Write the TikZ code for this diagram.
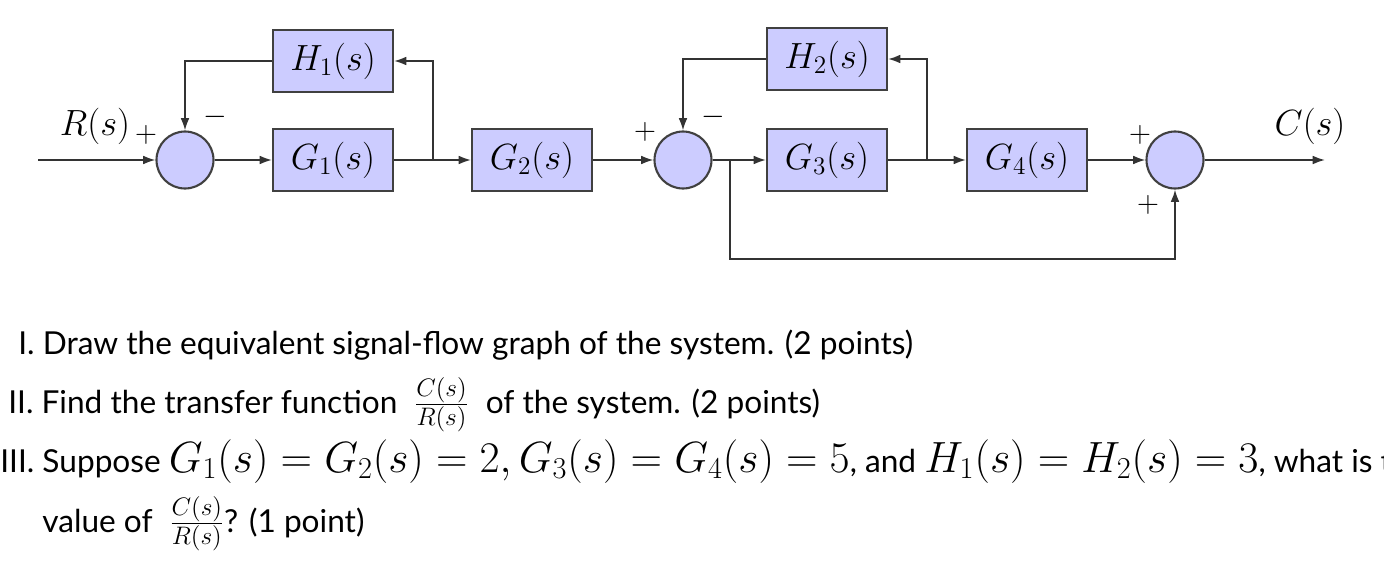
\documentclass[tikz,border=0pt]{standalone}
\usepackage{fontspec}
\setmainfont{Lato}
\usetikzlibrary{arrows.meta}
\newcommand{\bm}[1]{{\fontsize{24.5}{26}\selectfont$#1$}}
\begin{document}
\begin{tikzpicture}[x=0.02cm,y=-0.02cm,
  blk/.style={draw=black!75,line width=1.2pt,fill=blue!20,minimum width=120*0.02cm,minimum height=62*0.02cm,font=\fontsize{21}{24}\selectfont,inner sep=0pt},
  sum/.style={circle,draw=black!75,line width=1.2pt,fill=blue!20,minimum size=57*0.02cm,inner sep=0pt},
  ar/.style={draw=black!80,line width=1pt,-{Latex[length=7pt,width=5pt]}},
  ln/.style={draw=black!80,line width=1pt},
  sg/.style={font=\fontsize{18}{20}\selectfont,inner sep=0pt},
  txt/.style={anchor=base west,font=\fontsize{18}{20}\selectfont,inner sep=0pt}]
\useasboundingbox (0,0) rectangle (1384,582);
\coordinate (in) at (38,160);
\node[sum] (s1) at (185,160) {};
\node[blk] (g1) at (333,160) {$G_1(s)$};
\node[blk] (h1) at (333,61) {$H_1(s)$};
\node[blk] (g2) at (532,160) {$G_2(s)$};
\node[sum] (s2) at (683,160) {};
\node[blk] (g3) at (827,160) {$G_3(s)$};
\node[blk] (h2) at (827,59) {$H_2(s)$};
\node[blk] (g4) at (1027,160) {$G_4(s)$};
\node[sum] (s3) at (1175,160) {};
\coordinate (out) at (1325,160);
\coordinate (j1) at (433,160);
\coordinate (j2) at (927,160);
\coordinate (j3) at (730,160);
\draw[ar] (in) -- (s1);
\draw[ar] (s1) -- (g1);
\draw[ar] (g1) -- (g2);
\draw[ar] (j1) |- (h1);
\draw[ar] (h1) -| (s1);
\draw[ar] (g2) -- (s2);
\draw[ar] (s2) -- (g3);
\draw[ar] (g3) -- (g4);
\draw[ar] (j2) |- (h2);
\draw[ar] (h2) -| (s2);
\draw[ar] (g4) -- (s3);
\draw[ar] (s3) -- (out);
\draw[ar] (j3) -- (730,259) -| (s3);
\node[font=\fontsize{20}{24}\selectfont,inner sep=0pt] (rl) at (95,126) {$R(s)$};
\node[font=\fontsize{20}{24}\selectfont,inner sep=0pt] (cl) at (1310,126) {$C(s)$};
\node[sg] at (146,135) {$+$};
\node[sg] at (215,117) {$-$};
\node[sg] at (645,132) {$+$};
\node[sg] at (713,117) {$-$};
\node[sg] at (1140,135) {$+$};
\node[sg] at (1148,205) {$+$};
\node[txt] at (18,354) {I. Draw the equivalent signal-flow graph of the system. (2 points)};
\node[txt] at (8,413) {II. Find the transfer function \;{\fontsize{22}{24}\selectfont$\frac{C(s)}{R(s)}$}\; of the system. (2 points)};
\node[txt] at (0,472) {III. Suppose \bm{G_1(s)=G_2(s)=2, G_3(s)=G_4(s)=5}, and \bm{H_1(s)=H_2(s)=3}, what is the};
\node[txt] at (42,532) {value of \;{\fontsize{22}{24}\selectfont$\frac{C(s)}{R(s)}$}? (1 point)};
\end{tikzpicture}
\end{document}
